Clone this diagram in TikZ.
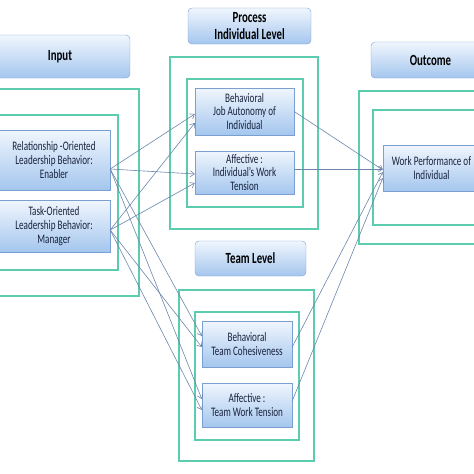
\documentclass[tikz,border=0pt]{standalone}
\usepackage{fontspec}
\setmainfont{Carlito}[FakeStretch=0.7]
\usetikzlibrary{arrows.meta}

\definecolor{framegreen}{RGB}{92,204,174}
\definecolor{boxline}{RGB}{122,160,210}
\definecolor{boxtop}{RGB}{240,246,253}
\definecolor{boxbot}{RGB}{164,198,238}
\definecolor{arrowblue}{RGB}{108,134,172}
\definecolor{textblue}{RGB}{24,34,62}

\begin{document}
\begin{tikzpicture}
  [x=1pt, y=-1pt,
    frame/.style={draw=framegreen, line width=1.3pt},
    header/.style={draw=boxline, rounded corners=4pt, top color=boxtop, bottom color=boxbot,
      font=\fontsize{15.5}{17}\selectfont\bfseries, align=center, inner sep=0pt},
    factor/.style={draw=boxline, top color=boxtop, bottom color=boxbot, text=textblue,
      font=\fontsize{13}{13.8}\selectfont, align=center, inner sep=0pt},
    link/.style={draw=arrowblue, line width=0.6pt, -{Straight Barb[length=4pt,width=6pt]}},
  ]
  \useasboundingbox (0,0) rectangle (474,474);
  \clip (0,0) rectangle (474,474);

  % frames
  \draw[frame] (-2,89) rectangle (139,296);
  \draw[frame] (-2,115) rectangle (118,270);
  \draw[frame] (170,57) rectangle (318,229);
  \draw[frame] (187,79) rectangle (303,207);
  \draw[frame] (359,91) rectangle (480,244);
  \draw[frame] (373,110) rectangle (480,225);
  \draw[frame] (179,290) rectangle (314,461);
  \draw[frame] (195,312) rectangle (299,440);

  % headers
  \node[header, minimum width=140, minimum height=43] (input) at (60,56.5) {Input};
  \node[header, minimum width=123, minimum height=36] (process) at (249.5,26) {Process\\Individual Level};
  \node[header, minimum width=119, minimum height=36] (outcome) at (430.5,60) {Outcome};
  \node[header, minimum width=111, minimum height=35] (team) at (250.5,258.5) {Team Level};

  % factors
  \node[factor, minimum width=112, minimum height=60] (rel) at (54,160)
    {Relationship -Oriented\\Leadership Behavior:\\Enabler};
  \node[factor, minimum width=112, minimum height=52] (task) at (54,226)
    {Task-Oriented\\Leadership Behavior:\\Manager};
  \node[factor, minimum width=99, minimum height=47] (job) at (244.5,111.5)
    {Behavioral\\Job Autonomy of\\Individual};
  \node[factor, minimum width=99, minimum height=43] (indten) at (244.5,172.5)
    {Affective :\\Individual's Work\\Tension};
  \node[factor, minimum width=97, minimum height=46] (perf) at (431.5,168)
    {Work Performance of\\Individual};
  \node[factor, minimum width=90, minimum height=46] (coh) at (247,344)
    {Behavioral\\Team Cohesiveness};
  \node[factor, minimum width=90, minimum height=44] (teamten) at (247,405)
    {Affective :\\Team Work Tension};

  % input to process
  \draw[link] ([yshift=-9pt]rel.east) -- ([yshift=-2.5pt]job.west);
  \draw[link] ([yshift=-9pt]rel.east) -- ([yshift=-1.5pt]indten.west);
  \draw[link] ([yshift=-9pt]rel.east) -- ([yshift=8pt]coh.west);
  \draw[link] ([yshift=-9pt]rel.east) -- ([yshift=6pt]teamten.west);
  \draw[link] ([yshift=-4pt]task.east) -- ([yshift=-11.5pt]job.west);
  \draw[link] ([yshift=-4pt]task.east) -- ([yshift=-10.5pt]indten.west);
  \draw[link] ([yshift=-4pt]task.east) -- ([yshift=-3pt]coh.west);
  \draw[link] ([yshift=-4pt]task.east) -- ([yshift=-5pt]teamten.west);

  % process to outcome
  \draw[link] (job.east) -- ([yshift=-2pt]perf.west);
  \draw[link] ([yshift=3.5pt]indten.east) -- ([yshift=-1pt]perf.west);
  \draw[link] ([yshift=-3pt]coh.east) -- ([yshift=-4pt]perf.west);
  \draw[link] ([yshift=4pt]teamten.east) -- ([yshift=-10pt]perf.west);
\end{tikzpicture}
\end{document}
